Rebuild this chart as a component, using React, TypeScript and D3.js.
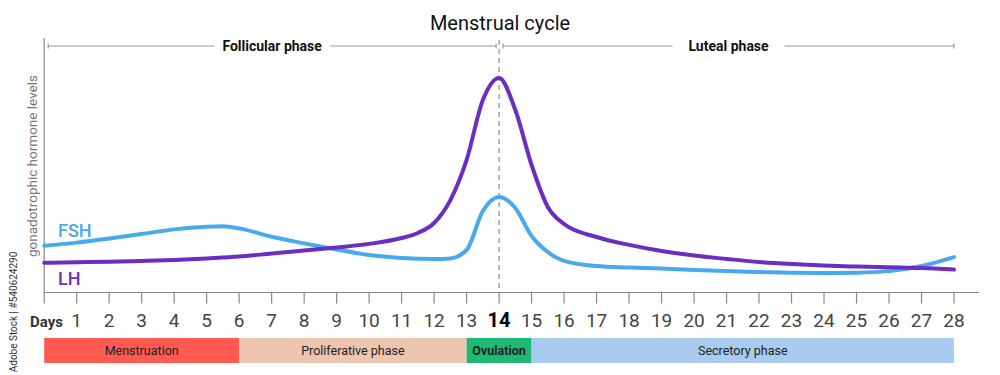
import React from "react";
import * as d3 from "d3";

const days = d3.range(0, 29);
const dayLabels = days.slice(1).map(String);

const fshDays = [0,1,2,3,4,5,5.5,6,7,8,9,10,11,12,12.5,13,13.5,14,14.5,15,15.5,16,17,18,19,20,21,22,23,24,25,26,27,28];
const fshValues = [18.4,19.6,21.2,23.0,24.8,25.8,26.0,25.2,21.9,19.3,16.9,14.7,13.6,13.2,13.4,16.7,32.0,37.5,33.2,22.2,15.9,12.4,10.4,9.8,9.4,8.8,8.4,8.1,7.8,7.7,7.8,8.4,10.4,13.9];

const lhDays = [0,1,2,3,4,5,6,7,8,9,10,11,11.5,12,12.5,13,13.5,14,14.5,15,15.5,16,17,18,19,20,21,22,23,24,25,26,27,28];
const lhValues = [11.7,11.9,12.1,12.4,12.8,13.4,14.1,15.3,16.5,17.7,19.1,21.4,23.4,27.3,36.3,52.1,75.6,84.3,71.7,50.1,33.6,26.9,21.8,18.7,16.3,14.5,13.2,12.0,11.2,10.6,10.2,9.9,9.6,9.0];

const phaseNames = ["Menstruation", "Proliferative phase", "Ovulation", "Secretory phase"];
const phaseStart = [0, 6, 13, 15];
const phaseEnd = [6, 13, 15, 28];
const phaseColors = ["#FF5A4F", "#EEC5AF", "#1FB976", "#A9CBEF"];

const cycleNames = ["Follicular phase", "Luteal phase"];
const cycleStart = [0, 14];
const cycleEnd = [14, 28];

const FONT = "Roboto, 'Noto Sans', sans-serif";

export default function App() {
  const W = 1000, H = 375;
  const x = d3.scaleLinear().domain([0, 28]).range([44.2, 954]);
  const y = d3.scaleLinear().domain([0, 100]).range([292.5, 38]);
  const line = d3.line<[number, number]>()
    .x((d) => x(d[0]))
    .y((d) => y(d[1]))
    .curve(d3.curveMonotoneX);
  const fshPath = line(fshDays.map((d, i) => [d, fshValues[i]]) as [number, number][]) || "";
  const lhPath = line(lhDays.map((d, i) => [d, lhValues[i]]) as [number, number][]) || "";

  const axisY = y(0);
  const lineY = 46;
  const gapHalf = [58, 56];

  return (
    <svg width={W} height={H} style={{ position: "absolute", left: 0, top: 0, background: "#fff" }} fontFamily={FONT}>
      <rect x={0} y={0} width={W} height={H} fill="#fff" />
      <text x={500} y={30} textAnchor="middle" fontSize={20} fill="#111">Menstrual cycle</text>

      {cycleNames.map((name, i) => {
        const x0 = x(cycleStart[i]) + 4;
        const x1 = x(cycleEnd[i]) - (i === 0 ? 3 : 0);
        const cx = (x0 + x1) / 2;
        return (
          <g key={name}>
            <line x1={x0} x2={cx - gapHalf[i]} y1={lineY} y2={lineY} stroke="#9a9a9a" strokeWidth={1.2} />
            <line x1={cx + gapHalf[i]} x2={x1} y1={lineY} y2={lineY} stroke="#9a9a9a" strokeWidth={1.2} />
            <line x1={x0} x2={x0} y1={lineY - 2.5} y2={lineY + 2.5} stroke="#9a9a9a" strokeWidth={1.2} />
            <line x1={x1} x2={x1} y1={lineY - 2.5} y2={lineY + 2.5} stroke="#9a9a9a" strokeWidth={1.2} />
            <text x={cx} y={lineY + 5} textAnchor="middle" fontSize={14} fontWeight="bold" fill="#111">{name}</text>
          </g>
        );
      })}

      <line x1={x(14)} x2={x(14)} y1={40} y2={axisY} stroke="#8c8c8c" strokeWidth={1.2} strokeDasharray="5,4" />

      <line x1={x(0)} x2={x(0)} y1={38} y2={axisY} stroke="#888" strokeWidth={1.2} />
      <line x1={x(0)} x2={979} y1={axisY} y2={axisY} stroke="#888" strokeWidth={1.2} />
      {days.map((d) => (
        <line key={d} x1={x(d)} x2={x(d)} y1={axisY} y2={axisY + 11} stroke="#888" strokeWidth={1.2} />
      ))}
      <text x={30} y={327} fontSize={15} fontWeight="bold" fill="#333">Days</text>
      {dayLabels.map((lab, i) => (
        <text key={lab} x={x(i + 1)} y={327} textAnchor="middle" fontSize={lab === "14" ? 20 : 19}
          fontWeight={lab === "14" ? "bold" : "normal"} fill={lab === "14" ? "#000" : "#444"}>{lab}</text>
      ))}

      <text transform="translate(37,166) rotate(-90)" textAnchor="middle" fontSize={13.5} fill="#777">gonadotrophic hormone levels</text>
      <text transform="translate(17,312) rotate(-90)" textAnchor="middle" fontSize={10} fill="#333">Adobe Stock | #540624290</text>

      <path d={fshPath} fill="none" stroke="#48A9EE" strokeWidth={4} strokeLinecap="round" />
      <path d={lhPath} fill="none" stroke="#6A2EC2" strokeWidth={4} strokeLinecap="round" />

      <text x={58} y={237} fontSize={18} fontWeight={500} fill="#48A9EE">FSH</text>
      <text x={58} y={285} fontSize={18} fontWeight={500} fill="#6A2EC2">LH</text>

      {phaseNames.map((name, i) => (
        <g key={name}>
          <rect x={x(phaseStart[i])} y={338} width={x(phaseEnd[i]) - x(phaseStart[i])} height={25} fill={phaseColors[i]} />
          <text x={(x(phaseStart[i]) + x(phaseEnd[i])) / 2} y={355} textAnchor="middle" fontSize={12.5}
            fontWeight={name === "Ovulation" ? "bold" : "normal"} fill="#222">{name}</text>
        </g>
      ))}
    </svg>
  );
}
